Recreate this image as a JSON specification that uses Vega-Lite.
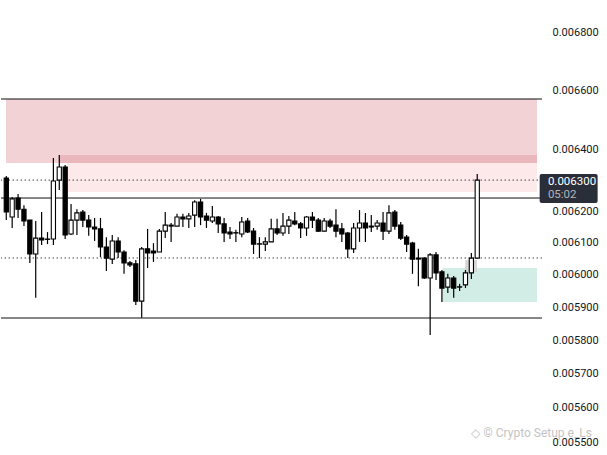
{
  "$schema": "https://vega.github.io/schema/vega-lite/v6.json",
  "width": 541,
  "height": 455,
  "padding": 0,
  "background": "#ffffff",
  "config": {"view": {"stroke": null}},
  "datasets": {
    "candles": [
      {"i": 0, "open": 0.006307, "high": 0.006313, "low": 0.006171, "close": 0.006197},
      {"i": 1, "open": 0.006181, "high": 0.006245, "low": 0.006146, "close": 0.006239},
      {"i": 2, "open": 0.006242, "high": 0.006255, "low": 0.006178, "close": 0.006206},
      {"i": 3, "open": 0.006206, "high": 0.006219, "low": 0.006152, "close": 0.006168},
      {"i": 4, "open": 0.006171, "high": 0.006171, "low": 0.006036, "close": 0.006064},
      {"i": 5, "open": 0.006064, "high": 0.006168, "low": 0.005928, "close": 0.006114},
      {"i": 6, "open": 0.006114, "high": 0.006197, "low": 0.006092, "close": 0.006108},
      {"i": 7, "open": 0.006111, "high": 0.006133, "low": 0.006095, "close": 0.006110},
      {"i": 8, "open": 0.006111, "high": 0.006372, "low": 0.006092, "close": 0.006297},
      {"i": 9, "open": 0.006300, "high": 0.006382, "low": 0.006268, "close": 0.006343},
      {"i": 10, "open": 0.006343, "high": 0.006349, "low": 0.006111, "close": 0.006124},
      {"i": 11, "open": 0.006127, "high": 0.006223, "low": 0.006124, "close": 0.006171},
      {"i": 12, "open": 0.006171, "high": 0.006206, "low": 0.006124, "close": 0.006194},
      {"i": 13, "open": 0.006197, "high": 0.006203, "low": 0.006149, "close": 0.006171},
      {"i": 14, "open": 0.006171, "high": 0.006187, "low": 0.006121, "close": 0.006149},
      {"i": 15, "open": 0.006149, "high": 0.006178, "low": 0.006105, "close": 0.006143},
      {"i": 16, "open": 0.006143, "high": 0.006178, "low": 0.006054, "close": 0.006086},
      {"i": 17, "open": 0.006086, "high": 0.006117, "low": 0.006011, "close": 0.006051},
      {"i": 18, "open": 0.006048, "high": 0.006124, "low": 0.006033, "close": 0.006105},
      {"i": 19, "open": 0.006105, "high": 0.006117, "low": 0.006051, "close": 0.006070},
      {"i": 20, "open": 0.006070, "high": 0.006076, "low": 0.006002, "close": 0.006036},
      {"i": 21, "open": 0.006036, "high": 0.006042, "low": 0.006023, "close": 0.006030},
      {"i": 22, "open": 0.006033, "high": 0.006045, "low": 0.005906, "close": 0.005918},
      {"i": 23, "open": 0.005918, "high": 0.006086, "low": 0.005867, "close": 0.006080},
      {"i": 24, "open": 0.006080, "high": 0.006143, "low": 0.006020, "close": 0.006067},
      {"i": 25, "open": 0.006073, "high": 0.006098, "low": 0.006039, "close": 0.006067},
      {"i": 26, "open": 0.006070, "high": 0.006143, "low": 0.006070, "close": 0.006136},
      {"i": 27, "open": 0.006136, "high": 0.006197, "low": 0.006114, "close": 0.006155},
      {"i": 28, "open": 0.006155, "high": 0.006162, "low": 0.006102, "close": 0.006152},
      {"i": 29, "open": 0.006152, "high": 0.006191, "low": 0.006152, "close": 0.006181},
      {"i": 30, "open": 0.006181, "high": 0.006191, "low": 0.006149, "close": 0.006175},
      {"i": 31, "open": 0.006175, "high": 0.006194, "low": 0.006146, "close": 0.006184},
      {"i": 32, "open": 0.006187, "high": 0.006235, "low": 0.006149, "close": 0.006229},
      {"i": 33, "open": 0.006229, "high": 0.006239, "low": 0.006155, "close": 0.006181},
      {"i": 34, "open": 0.006184, "high": 0.006194, "low": 0.006146, "close": 0.006171},
      {"i": 35, "open": 0.006168, "high": 0.006216, "low": 0.006162, "close": 0.006181},
      {"i": 36, "open": 0.006181, "high": 0.006184, "low": 0.006130, "close": 0.006159},
      {"i": 37, "open": 0.006159, "high": 0.006178, "low": 0.006102, "close": 0.006130},
      {"i": 38, "open": 0.006133, "high": 0.006149, "low": 0.006111, "close": 0.006127},
      {"i": 39, "open": 0.006131, "high": 0.006140, "low": 0.006102, "close": 0.006130},
      {"i": 40, "open": 0.006127, "high": 0.006181, "low": 0.006117, "close": 0.006165},
      {"i": 41, "open": 0.006168, "high": 0.006178, "low": 0.006130, "close": 0.006133},
      {"i": 42, "open": 0.006136, "high": 0.006146, "low": 0.006064, "close": 0.006095},
      {"i": 43, "open": 0.006096, "high": 0.006117, "low": 0.006051, "close": 0.006095},
      {"i": 44, "open": 0.006095, "high": 0.006117, "low": 0.006073, "close": 0.006102},
      {"i": 45, "open": 0.006102, "high": 0.006175, "low": 0.006102, "close": 0.006143},
      {"i": 46, "open": 0.006143, "high": 0.006175, "low": 0.006124, "close": 0.006130},
      {"i": 47, "open": 0.006130, "high": 0.006194, "low": 0.006121, "close": 0.006152},
      {"i": 48, "open": 0.006152, "high": 0.006184, "low": 0.006127, "close": 0.006171},
      {"i": 49, "open": 0.006168, "high": 0.006197, "low": 0.006155, "close": 0.006159},
      {"i": 50, "open": 0.006159, "high": 0.006165, "low": 0.006114, "close": 0.006146},
      {"i": 51, "open": 0.006146, "high": 0.006184, "low": 0.006121, "close": 0.006181},
      {"i": 52, "open": 0.006181, "high": 0.006197, "low": 0.006146, "close": 0.006171},
      {"i": 53, "open": 0.006171, "high": 0.006178, "low": 0.006133, "close": 0.006136},
      {"i": 54, "open": 0.006136, "high": 0.006178, "low": 0.006136, "close": 0.006168},
      {"i": 55, "open": 0.006168, "high": 0.006175, "low": 0.006146, "close": 0.006152},
      {"i": 56, "open": 0.006155, "high": 0.006206, "low": 0.006117, "close": 0.006136},
      {"i": 57, "open": 0.006143, "high": 0.006162, "low": 0.006102, "close": 0.006127},
      {"i": 58, "open": 0.006130, "high": 0.006133, "low": 0.006051, "close": 0.006080},
      {"i": 59, "open": 0.006080, "high": 0.006162, "low": 0.006067, "close": 0.006146},
      {"i": 60, "open": 0.006146, "high": 0.006203, "low": 0.006102, "close": 0.006162},
      {"i": 61, "open": 0.006162, "high": 0.006194, "low": 0.006102, "close": 0.006146},
      {"i": 62, "open": 0.006152, "high": 0.006187, "low": 0.006133, "close": 0.006149},
      {"i": 63, "open": 0.006152, "high": 0.006171, "low": 0.006140, "close": 0.006162},
      {"i": 64, "open": 0.006162, "high": 0.006197, "low": 0.006108, "close": 0.006136},
      {"i": 65, "open": 0.006136, "high": 0.006219, "low": 0.006127, "close": 0.006194},
      {"i": 66, "open": 0.006197, "high": 0.006203, "low": 0.006140, "close": 0.006152},
      {"i": 67, "open": 0.006155, "high": 0.006165, "low": 0.006108, "close": 0.006114},
      {"i": 68, "open": 0.006117, "high": 0.006124, "low": 0.006070, "close": 0.006095},
      {"i": 69, "open": 0.006098, "high": 0.006102, "low": 0.006002, "close": 0.006048},
      {"i": 70, "open": 0.006051, "high": 0.006080, "low": 0.005964, "close": 0.006048},
      {"i": 71, "open": 0.006051, "high": 0.006054, "low": 0.005986, "close": 0.005989},
      {"i": 72, "open": 0.005989, "high": 0.006067, "low": 0.005815, "close": 0.006061},
      {"i": 73, "open": 0.006061, "high": 0.006070, "low": 0.005983, "close": 0.006005},
      {"i": 74, "open": 0.006008, "high": 0.006014, "low": 0.005915, "close": 0.005958},
      {"i": 75, "open": 0.005961, "high": 0.006002, "low": 0.005943, "close": 0.005989},
      {"i": 76, "open": 0.005989, "high": 0.005995, "low": 0.005928, "close": 0.005958},
      {"i": 77, "open": 0.005962, "high": 0.005971, "low": 0.005949, "close": 0.005961},
      {"i": 78, "open": 0.005968, "high": 0.006014, "low": 0.005958, "close": 0.006005},
      {"i": 79, "open": 0.006005, "high": 0.006067, "low": 0.005986, "close": 0.006051},
      {"i": 80, "open": 0.006051, "high": 0.006320, "low": 0.006051, "close": 0.006300}
    ],
    "zones": [
      {"zone": "supply", "from": -0.05, "to": 90.15, "lo": 0.0063558, "hi": 0.0065696},
      {"zone": "band", "from": 9.1, "to": 90.15, "lo": 0.0063558, "hi": 0.0063822},
      {"zone": "upper", "from": 10.3, "to": 90.15, "lo": 0.0062612, "hi": 0.0063558},
      {"zone": "demand", "from": 74.1, "to": 90.15, "lo": 0.0059153, "hi": 0.0060201},
      {"zone": "highlight", "from": 77.95, "to": 79.95, "lo": 0.0060077, "hi": 0.0060451}
    ],
    "solidLevels": [
      {"level": 0.0065696},
      {"level": 0.0062419},
      {"level": 0.0058666}
    ],
    "dottedLevels": [
      {"level": 0.0063},
      {"level": 0.0060514}
    ],
    "priceBox": [
      {"from": 90.6, "to": 100.45, "lo": 0.0062258, "hi": 0.0063198}
    ],
    "priceText": [{"i": 92.0, "y": 0.0062947, "t": "0.006300"}],
    "timerText": [{"i": 92.0, "y": 0.0062516, "t": "05:02"}],
    "watermark": [{"i": 79.0, "y": 0.0055290, "t": "◇ © Crypto Setup e_Ls"}]
  },
  "layer": [
    {
      "data": {"name": "zones"},
      "mark": {"type": "rect"},
      "encoding": {
        "x": {"field": "from", "type": "quantitative", "scale": {"domain": [-0.05, 90.15], "nice": false, "zero": false}, "axis": null},
        "x2": {"field": "to"},
        "y": {
          "field": "lo",
          "type": "quantitative",
          "scale": {"type": "log", "domain": [0.0054656, 0.0069145], "nice": false, "zero": false},
          "axis": {
            "orient": "right",
            "title": null,
            "values": [0.0068, 0.0066, 0.0064, 0.0062, 0.0061, 0.006, 0.0059, 0.0058, 0.0057, 0.0056, 0.0055],
            "labelExpr": "format(datum.value, '.6f')",
            "domain": false,
            "ticks": false,
            "grid": false,
            "labelPadding": 10,
            "labelFont": "Roboto",
            "labelFontSize": 11,
            "labelColor": "#131722",
            "labelOverlap": false,
            "labelFlush": false
          }
        },
        "y2": {"field": "hi"},
        "fill": {
          "field": "zone",
          "type": "nominal",
          "scale": {
            "domain": ["supply", "band", "upper", "demand", "highlight"],
            "range": ["#f2d2d5", "#eab8bc", "#fde8ea", "#d2ece6", "#d6d6d6"]
          },
          "legend": null
        }
      }
    },
    {
      "data": {"name": "dottedLevels"},
      "mark": {"type": "rule", "color": "#3a3a3a", "strokeWidth": 1, "strokeDash": [1.4, 2.6]},
      "encoding": {
        "y": {"field": "level", "type": "quantitative", "scale": {"type": "log", "domain": [0.0054656, 0.0069145], "nice": false, "zero": false}}
      }
    },
    {
      "data": {"name": "solidLevels"},
      "mark": {"type": "rule", "color": "#111111", "strokeWidth": 1},
      "encoding": {
        "y": {"field": "level", "type": "quantitative", "scale": {"type": "log", "domain": [0.0054656, 0.0069145], "nice": false, "zero": false}}
      }
    },
    {
      "data": {"name": "candles"},
      "mark": {"type": "rule", "color": "#000000", "strokeWidth": 1.2},
      "encoding": {
        "x": {"field": "i", "type": "quantitative", "scale": {"domain": [-0.05, 90.15], "nice": false, "zero": false}, "axis": null},
        "y": {"field": "high", "type": "quantitative", "scale": {"type": "log", "domain": [0.0054656, 0.0069145], "nice": false, "zero": false}},
        "y2": {"field": "low"}
      }
    },
    {
      "data": {"name": "candles"},
      "mark": {"type": "bar", "size": 4.2, "stroke": "#000000", "strokeWidth": 1.1},
      "encoding": {
        "x": {"field": "i", "type": "quantitative", "scale": {"domain": [-0.05, 90.15], "nice": false, "zero": false}, "axis": null},
        "y": {"field": "open", "type": "quantitative", "scale": {"type": "log", "domain": [0.0054656, 0.0069145], "nice": false, "zero": false}},
        "y2": {"field": "close"},
        "fill": {"condition": {"test": "datum.close >= datum.open", "value": "#ffffff"}, "value": "#000000"}
      }
    },
    {
      "data": {"name": "priceBox"},
      "mark": {"type": "rect", "color": "#2a2e39", "cornerRadius": 2},
      "encoding": {
        "x": {"field": "from", "type": "quantitative", "scale": {"domain": [-0.05, 90.15], "nice": false, "zero": false}, "axis": null},
        "x2": {"field": "to"},
        "y": {"field": "lo", "type": "quantitative", "scale": {"type": "log", "domain": [0.0054656, 0.0069145], "nice": false, "zero": false}},
        "y2": {"field": "hi"}
      }
    },
    {
      "data": {"name": "priceText"},
      "mark": {"type": "text", "align": "left", "baseline": "middle", "font": "Roboto", "fontSize": 11.5, "color": "#ffffff"},
      "encoding": {
        "x": {"field": "i", "type": "quantitative", "scale": {"domain": [-0.05, 90.15], "nice": false, "zero": false}, "axis": null},
        "y": {"field": "y", "type": "quantitative", "scale": {"type": "log", "domain": [0.0054656, 0.0069145], "nice": false, "zero": false}},
        "text": {"field": "t"}
      }
    },
    {
      "data": {"name": "timerText"},
      "mark": {"type": "text", "align": "left", "baseline": "middle", "font": "Roboto", "fontSize": 11.5, "color": "#b2b5be"},
      "encoding": {
        "x": {"field": "i", "type": "quantitative", "scale": {"domain": [-0.05, 90.15], "nice": false, "zero": false}, "axis": null},
        "y": {"field": "y", "type": "quantitative", "scale": {"type": "log", "domain": [0.0054656, 0.0069145], "nice": false, "zero": false}},
        "text": {"field": "t"}
      }
    },
    {
      "data": {"name": "watermark"},
      "mark": {"type": "text", "align": "left", "baseline": "middle", "font": "Roboto", "fontSize": 12, "color": "#c4c4c4"},
      "encoding": {
        "x": {"field": "i", "type": "quantitative", "scale": {"domain": [-0.05, 90.15], "nice": false, "zero": false}, "axis": null},
        "y": {"field": "y", "type": "quantitative", "scale": {"type": "log", "domain": [0.0054656, 0.0069145], "nice": false, "zero": false}},
        "text": {"field": "t"}
      }
    }
  ]
}
